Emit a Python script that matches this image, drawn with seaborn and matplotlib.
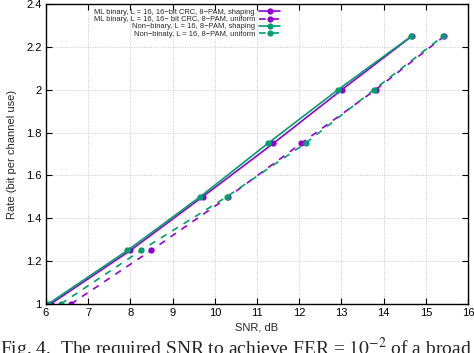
"""Rate vs SNR, binary vs non-binary, shaping vs uniform."""

import matplotlib

matplotlib.use("Agg")
import matplotlib.pyplot as plt
import pandas as pd
import seaborn as sns
from matplotlib.ticker import FormatStrFormatter, MultipleLocator

RATE = [1.0, 1.25, 1.5, 1.75, 2.0, 2.25]
SNR_BIN_SHAPING = [6.11, 8.0, 9.71, 11.39, 13.01, 14.67]
SNR_BIN_UNIFORM = [6.59, 8.49, 10.32, 12.05, 13.81, 15.44]
SNR_NB_SHAPING = [6.05, 7.93, 9.65, 11.26, 12.92, 14.66]
SNR_NB_UNIFORM = [6.35, 8.25, 10.28, 12.15, 13.77, 15.41]

LABELS = [
    "ML binary, L = 16, 16\u2212bit CRC, 8\u2212PAM, shaping",
    "ML binary, L = 16, 16\u2212 bit CRC, 8\u2212PAM, uniform",
    "Non\u2212binary, L = 16, 8\u2212PAM, shaping",
    "Non\u2212binaty, L = 16, 8\u2212PAM, uniform",
]
PURPLE = "#9400d3"
GREEN = "#009e73"


def main() -> None:
    sns.set_style("ticks")
    plt.rcParams["font.family"] = ["Liberation Sans", "DejaVu Sans"]
    plt.rcParams["mathtext.fontset"] = "stix"

    fig = plt.figure(figsize=(4.74, 3.53), dpi=100)
    ax = fig.add_axes([46 / 474, 1 - 304 / 353, 422 / 474, 300 / 353])

    seriler = [
        (SNR_BIN_SHAPING, LABELS[0], PURPLE, "-"),
        (SNR_BIN_UNIFORM, LABELS[1], PURPLE, (0, (4, 4))),
        (SNR_NB_SHAPING, LABELS[2], GREEN, "-"),
        (SNR_NB_UNIFORM, LABELS[3], GREEN, (0, (4, 4))),
    ]
    for snr, etiket, renk, cizgi in seriler:
        df = pd.DataFrame({"snr": snr, "rate": RATE})
        sns.lineplot(
            data=df, x="snr", y="rate", ax=ax, color=renk, linestyle=cizgi,
            marker="o", markersize=4.5, markeredgewidth=0, linewidth=1.2,
            label=etiket, sort=False,
        )

    ax.set_xlim(6, 16)
    ax.set_ylim(1, 2.4)
    ax.xaxis.set_major_locator(MultipleLocator(1))
    ax.yaxis.set_major_locator(MultipleLocator(0.2))
    ax.yaxis.set_major_formatter(FormatStrFormatter("%g"))
    ax.grid(True, color="#c8c8c8", linestyle=(0, (1, 1.5)), linewidth=0.7)
    ax.tick_params(direction="in", top=True, right=True, labelsize=8,
                   length=4, width=0.8, colors="black", pad=3)
    for kenar in ax.spines.values():
        kenar.set_linewidth(1.0)
        kenar.set_color("black")
    ax.set_xlabel("SNR, dB", fontsize=8, labelpad=3)
    ax.set_ylabel("Rate (bit per channel use)", fontsize=8, labelpad=7)

    leg = ax.legend(loc="upper right", fontsize=5.4,
                    frameon=False, markerfirst=False, handlelength=2.9,
                    handletextpad=0.5, labelspacing=0.0, borderaxespad=0.35,
                    borderpad=0.0)
    leg.set_bbox_to_anchor((283 / 474, 1 - 6 / 353), transform=fig.transFigure)
    for metin in leg.get_texts():
        metin.set_ha("right")
    leg._legend_box.align = "right"

    fig.text(0.0, 1 - 336 / 353,
             "Fig. 4.  The required SNR to achieve FER = $10^{-2}$ of a broad",
             fontsize=14, family=["Liberation Serif", "DejaVu Serif"], va="top")
    fig.savefig("out.png", dpi=100)
    plt.close(fig)


if __name__ == "__main__":
    main()
